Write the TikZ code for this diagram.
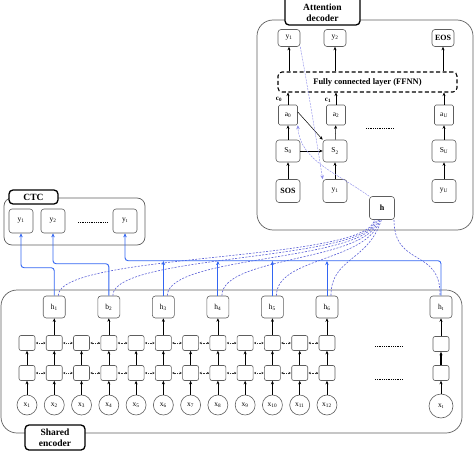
\documentclass[tikz,border=0pt]{standalone}
\usepackage{fontspec}
\setmainfont{Liberation Serif}
\usetikzlibrary{arrows.meta,calc}
\definecolor{bordergray}{HTML}{5E5E5E}
\definecolor{solidblue}{HTML}{3366F2}
\definecolor{dashblue}{HTML}{5A5FD6}
\definecolor{thinblue}{HTML}{8E8EEA}
\begin{document}
\begin{tikzpicture}[x=1pt,y=-1pt,
  nd/.style={draw=bordergray, line width=0.6pt, rounded corners=3pt, fill=white, inner sep=0pt, font=\fontsize{7.5}{8}\selectfont},
  bnd/.style={font=\bfseries\fontsize{8}{9}\selectfont},
  obox/.style={nd, minimum width=22pt, minimum height=17pt},
  abox/.style={nd, rounded corners=1.5pt, minimum width=19pt, minimum height=20pt},
  sbox/.style={nd, minimum width=24pt, minimum height=22pt},
  ibox/.style={nd, minimum width=24pt, minimum height=23pt},
  hbox/.style={nd, minimum width=22pt, minimum height=22pt},
  cbox/.style={nd, minimum width=24pt, minimum height=24pt},
  rnn/.style={nd, rounded corners=2pt, minimum width=16pt, minimum height=15pt},
  xin/.style={nd, circle, minimum size=20pt},
  panel/.style={draw=bordergray, line width=0.7pt, rounded corners=16pt},
  tagbox/.style={draw=black, line width=1.3pt, rounded corners=4pt, fill=white},
  tagtext/.style={font=\bfseries\fontsize{9.5}{11}\selectfont, align=center, inner sep=0pt},
  ffnnbox/.style={draw=black, line width=1.1pt, dash pattern=on 4pt off 2.5pt, rounded corners=4pt, minimum width=179pt, minimum height=20pt, inner sep=0pt, font=\bfseries\fontsize{8.5}{9}\selectfont},
  clab/.style={font=\bfseries\fontsize{7}{8}\selectfont, inner sep=0pt},
  arr/.style={-{Stealth[length=3.5pt,width=3pt]}, line width=0.5pt, black},
  biarr/.style={{Stealth[length=2.3pt,width=2.4pt]}-{Stealth[length=2.3pt,width=2.4pt]}, shorten <=0.5pt, shorten >=0.5pt, line width=0.4pt, black!80, dash pattern=on 0.5pt off 1.2pt},
  bl/.style={solidblue, line width=0.9pt, rounded corners=3pt},
  bla/.style={bl, -{Stealth[length=4pt,width=3.5pt]}},
  fan/.style={dashblue, line width=0.6pt, dash pattern=on 2pt off 1.4pt},
  thinbl/.style={thinblue, line width=0.45pt},
  dotrow/.style={black, line width=1pt, dash pattern=on 0.8pt off 1pt},
]
\useasboundingbox (0,0) rectangle (474,452);

% ---------- panels ----------
\draw[panel] (257,20) rectangle (473,230);
\draw[panel, rounded corners=8pt] (4,198) rectangle (145,245);
\draw[panel] (1,290) rectangle (462,433);

\draw[tagbox] (285,-6) rectangle (360,25);
\node[tagtext] (adlab) at (322.5,13) {Attention\\decoder};
\node[tagbox, tagtext, minimum width=49pt, minimum height=14pt] (ctclab) at (33.5,197) {CTC};
\node[tagbox, tagtext, minimum width=60pt, minimum height=25pt] (enclab) at (55,437.5) {Shared\\encoder};

% ---------- attention decoder ----------
\node[obox] (yo1) at (289,38) {y\textsubscript{1}};
\node[obox] (yo2) at (335,38) {y\textsubscript{2}};
\node[obox, bnd] (eos) at (443,38) {EOS};
\node[ffnnbox] (ffnn) at (367.5,82) {Fully connected layer (FFNN)};
\node[abox] (a0) at (288,115) {a\textsubscript{0}};
\node[abox] (a2) at (336,115) {a\textsubscript{2}};
\node[abox] (aU) at (444,115) {a\textsubscript{U}};
\node[sbox] (s0) at (288,151) {S\textsubscript{0}};
\node[sbox] (s2) at (335,151) {S\textsubscript{2}};
\node[sbox] (sU) at (444,151) {S\textsubscript{U}};
\node[ibox, bnd] (sos) at (288,191) {SOS};
\node[ibox] (yi1) at (335,191) {y\textsubscript{1}};
\node[ibox] (yU) at (444,191) {y\textsubscript{U}};
\node[nd, bnd, minimum width=25pt, minimum height=23pt] (h) at (382,208) {h};
\node[clab] (c0) at (279,99) {c\textsubscript{0}};
\node[clab] (c1) at (328,100) {c\textsubscript{1}};
\draw[dotrow] (366,128) -- (394,128);

\draw[arr] (sos) -- (s0);
\draw[arr] (s0) -- (a0);
\draw[arr] (a0.north) -- (a0.north |- ffnn.south);
\draw[arr] (yi1) -- (s2);
\draw[arr] (s2) -- (a2);
\draw[arr] (a2.north) -- (a2.north |- ffnn.south);
\draw[arr] (yU) -- (sU);
\draw[arr] (sU) -- (aU);
\draw[arr] (aU.north) -- (aU.north |- ffnn.south);
\draw[arr] (s0.east) -- (s2.west);
\draw[arr] ($(a0.east)+(0,-3)$) -- (s2.north west);
\draw[arr] (yo1.south |- ffnn.north) -- (yo1.south);
\draw[arr] (yo2.south |- ffnn.north) -- (yo2.south);
\draw[arr] (eos.south |- ffnn.north) -- (eos.south);

\draw[thinbl, -{Stealth[length=4pt,width=3.5pt]}, dash pattern=on 2pt off 1pt] (yo1.south east) .. controls (310,100) and (318,150) .. (yi1.north west);
\draw[thinbl, -{Stealth[length=4pt,width=3.5pt]}, dash pattern=on 2pt off 1pt] (h.north west) .. controls (335,172) and (300,160) .. (a0.south east);

% ---------- CTC ----------
\node[cbox] (c1y) at (21,221) {y\textsubscript{1}};
\node[cbox] (c2y) at (53,221) {y\textsubscript{2}};
\node[cbox] (cty) at (125,221) {y\textsubscript{t}};
\draw[dotrow] (78,222) -- (107,222);

% ---------- shared encoder ----------
\foreach \j in {1,...,12}{
  \pgfmathsetmacro{\xx}{27+(\j-1)*27.27}
  \node[xin] (x\j) at (\xx,405) {x\textsubscript{\j}};
  \node[rnn] (l\j) at (\xx,373) {};
  \node[rnn] (u\j) at (\xx,343) {};
  \draw[arr] (x\j) -- (l\j);
  \draw[arr] (l\j) -- (u\j);
}
\foreach \j [evaluate=\j as \k using int(\j+1)] in {1,...,11}{
  \draw[biarr] (l\j.east) -- (l\k.west);
  \draw[biarr] (u\j.east) -- (u\k.west);
}
\node[hbox] (h1) at ($(u2)+(0,-36)$) {h\textsubscript{1}};
\node[hbox] (h2) at ($(u4)+(0,-36)$) {b\textsubscript{2}};
\node[hbox] (h3) at ($(u6)+(0,-36)$) {h\textsubscript{3}};
\node[hbox] (h4) at ($(u8)+(0,-36)$) {h\textsubscript{4}};
\node[hbox] (h5) at ($(u10)+(0,-36)$) {h\textsubscript{5}};
\node[hbox] (h6) at ($(u12)+(0,-36)$) {h\textsubscript{6}};
\draw[arr] (u2) -- (h1);
\draw[arr] (u4) -- (h2);
\draw[arr] (u6) -- (h3);
\draw[arr] (u8) -- (h4);
\draw[arr] (u10) -- (h5);
\draw[arr] (u12) -- (h6);

\node[xin, minimum size=24pt] (xt) at (441,406) {x\textsubscript{t}};
\node[rnn] (lt) at (441,373) {};
\node[rnn] (ut) at (441,344) {};
\node[hbox] (ht) at (441,307) {h\textsubscript{t}};
\draw[arr] (xt) -- (lt);
\draw[arr, line width=1.3pt] (lt) -- (ut);
\draw[arr] (ut) -- (ht);
\draw[dotrow] (375,346) -- (403,346);
\draw[dotrow] (375,379) -- (403,379);

% ---------- connections ----------
\foreach \i in {1,...,6}{
  \draw[fan] ($(h\i.north)+(4,0)$) .. controls ($(h\i.north)+(4,-44+\i)$) and ($(h.south)+(-14,42)$) .. ($(h.south)+(-9+\i*1.4,0)$);
}
\draw[fan] ($(h.south)+(12,0)$) .. controls ($(h.south)+(12,48)$) and ($(ht.north)+(0,-48)$) .. ($(ht.north)+(-1,0)$);

\draw[bla] (h1.north) -- ++(0,-28) -| (c1y.south);
\draw[bla] (h2.north) -- ++(0,-32) -| (c2y.south);
\draw[bla] (ht.north) -- ++(0,-35) -| (cty.south);
\coordinate (bus) at (0,261);
\draw[bla] (h3.north) -- (h3.north |- bus);
\draw[bla] (h4.north) -- (h4.north |- bus);
\draw[bla] (h5.north) -- (h5.north |- bus);
\draw[bla] (h6.north) -- (h6.north |- bus);
\end{tikzpicture}
\end{document}
